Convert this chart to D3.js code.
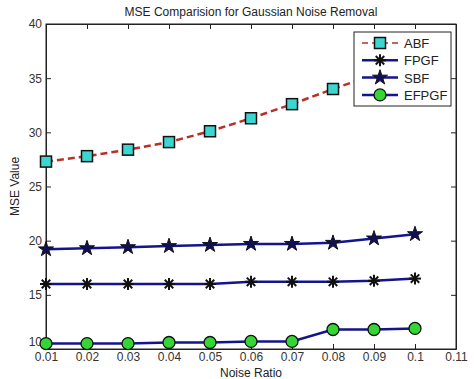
<!DOCTYPE html>
<html><head><meta charset="utf-8">
<script src="https://cdn.jsdelivr.net/npm/d3@7"></script>
<style>body{margin:0;background:#fff}svg{display:block}text{font-family:"Liberation Sans",Arial,sans-serif}</style>
</head><body><svg id="c" width="474" height="379"></svg>
<script>
const noiseRatio = [0.01,0.02,0.03,0.04,0.05,0.06,0.07,0.08,0.09,0.1];
const abf   = [27.3,27.8,28.4,29.1,30.1,31.3,32.6,34.0,35.3,36.6];
const fpgf  = [16.0,16.0,16.0,16.0,16.0,16.2,16.2,16.2,16.3,16.5];
const sbf   = [19.2,19.3,19.4,19.5,19.6,19.7,19.7,19.8,20.2,20.6];
const efpgf = [10.5,10.5,10.5,10.6,10.6,10.7,10.7,11.8,11.8,11.9];
const xTicks = [0.01,0.02,0.03,0.04,0.05,0.06,0.07,0.08,0.09,0.1,0.11];
const yTicks = [10,15,20,25,30,35,40];
const seriesNames = ["ABF","FPGF","SBF","EFPGF"];

const svg = d3.select("#c");
const L=46,R=456,T=24,B=349;
const x = d3.scaleLinear().domain([0.01,0.11]).range([L,R]);
const y = d3.scaleLinear().domain([10,40]).range([B,T]);

svg.append("text").attr("x",(L+R)/2).attr("y",16).attr("text-anchor","middle")
  .attr("font-size",12).attr("fill","#222").text("MSE Comparision for Gaussian Noise Removal");

const fmt = d => d===0.1?"0.1":d3.format(".2f")(d);
const xb = svg.append("g").attr("transform",`translate(0,${B})`)
  .call(d3.axisBottom(x).tickValues(xTicks).tickFormat(fmt).tickSizeInner(-5).tickSizeOuter(0).tickPadding(3));
const xt = svg.append("g").attr("transform",`translate(0,${T})`)
  .call(d3.axisTop(x).tickValues(xTicks).tickFormat("").tickSizeInner(-5).tickSizeOuter(0));
const yl = svg.append("g").attr("transform",`translate(${L},0)`)
  .call(d3.axisLeft(y).tickValues(yTicks).tickSizeInner(-5).tickSizeOuter(0).tickPadding(4));
const yr = svg.append("g").attr("transform",`translate(${R},0)`)
  .call(d3.axisRight(y).tickValues(yTicks).tickFormat("").tickSizeInner(-5).tickSizeOuter(0));
[xb,xt,yl,yr].forEach(g=>{
  g.selectAll("path").attr("stroke","#222");
  g.selectAll("line").attr("stroke","#222");
  g.selectAll("text").attr("font-size",12).attr("fill","#333").attr("font-family","Liberation Sans, Arial, sans-serif");
});
// nudge the bottom y label up so it clears the first x label
yl.selectAll(".tick text").filter(d=>d===10).attr("y",-7);

svg.append("rect").attr("x",L).attr("y",T).attr("width",R-L).attr("height",B-T)
  .attr("fill","none").attr("stroke","#222").attr("stroke-width",1);

svg.append("text").attr("x",(L+R)/2).attr("y",377).attr("text-anchor","middle")
  .attr("font-size",12).attr("fill","#222").text("Noise Ratio");
svg.append("text").attr("transform",`translate(19,${(T+B)/2}) rotate(-90)`).attr("text-anchor","middle")
  .attr("font-size",12).attr("fill","#222").text("MSE Value");

const navy="#14148c";
const series=[
  {name:"ABF",data:abf,color:"#b8302a",dash:"7,4",marker:"square"},
  {name:"FPGF",data:fpgf,color:navy,dash:null,marker:"asterisk"},
  {name:"SBF",data:sbf,color:navy,dash:null,marker:"star"},
  {name:"EFPGF",data:efpgf,color:navy,dash:null,marker:"circle"}
];
const line=d3.line().x((d,i)=>x(noiseRatio[i])).y(d=>y(d));

function drawMarker(g,type,cx,cy){
  if(type==="square"){
    g.append("rect").attr("x",cx-5.5).attr("y",cy-5.5).attr("width",11).attr("height",11)
      .attr("fill","#3cd6d0").attr("stroke","#111").attr("stroke-width",1.5);
  } else if(type==="asterisk"){
    const r=6;
    for(let k=0;k<4;k++){
      const a=k*Math.PI/4;
      g.append("line").attr("x1",cx-r*Math.cos(a)).attr("y1",cy-r*Math.sin(a))
        .attr("x2",cx+r*Math.cos(a)).attr("y2",cy+r*Math.sin(a)).attr("stroke","#111").attr("stroke-width",2);
    }
  } else if(type==="star"){
    g.append("path").attr("d",d3.symbol().type(d3.symbolStar).size(70)())
      .attr("transform",`translate(${cx},${cy})`).attr("fill","#10105a").attr("stroke","#111").attr("stroke-width",1);
  } else if(type==="circle"){
    g.append("circle").attr("cx",cx).attr("cy",cy).attr("r",6)
      .attr("fill","#33d633").attr("stroke","#111").attr("stroke-width",1.3);
  }
}

series.forEach(s=>{
  const g=svg.append("g");
  g.append("path").datum(s.data).attr("d",line).attr("fill","none")
    .attr("stroke",s.color).attr("stroke-width",2.5).attr("stroke-dasharray",s.dash);
  s.data.forEach((v,i)=>drawMarker(g,s.marker,x(noiseRatio[i]),y(v)));
});

const lg=svg.append("g");
lg.append("rect").attr("x",354).attr("y",32).attr("width",97).attr("height",74)
  .attr("fill","#fff").attr("stroke","#222").attr("stroke-width",1);
series.forEach((s,i)=>{
  const yy=43+i*17.3;
  lg.append("line").attr("x1",362).attr("x2",398).attr("y1",yy).attr("y2",yy)
    .attr("stroke",s.color).attr("stroke-width",s.dash?1.5:2.5).attr("stroke-dasharray",s.dash?"6,4":null);
  drawMarker(lg,s.marker,380,yy);
  lg.append("text").attr("x",404).attr("y",yy+5).attr("font-size",13).attr("fill","#222").text(s.name);
});
</script></body></html>
